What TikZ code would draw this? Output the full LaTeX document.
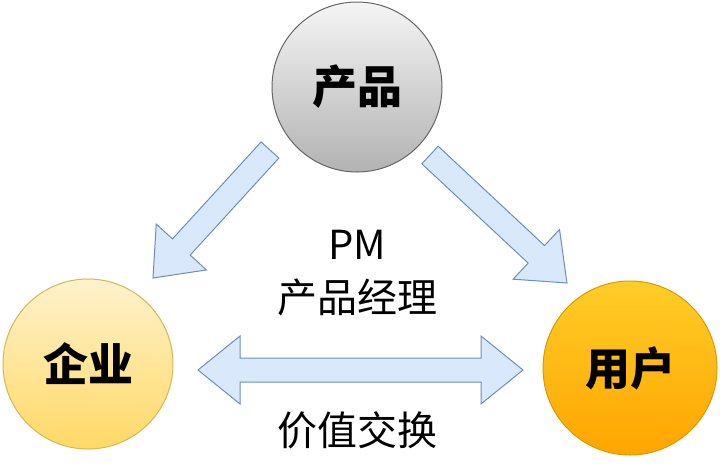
\documentclass[tikz,border=0pt]{standalone}
\usepackage{fontspec}
\newfontfamily\cjk{Noto Sans CJK SC}
\usetikzlibrary{calc}
\definecolor{afill}{HTML}{DAE8FC}
\definecolor{aline}{HTML}{6C8EBF}
\definecolor{eline}{HTML}{D6B656}
\definecolor{etop}{HTML}{FFF2CC}
\definecolor{ebot}{HTML}{FFD966}
\definecolor{uline}{HTML}{D79B00}
\definecolor{utop}{HTML}{FFCD28}
\definecolor{ubot}{HTML}{FFA500}
\tikzset{
  circ/.style={circle,minimum size=#1,inner sep=0pt,line width=1pt,font=\cjk\bfseries\fontsize{45}{48}\selectfont},
  blk/.style={fill=afill,draw=aline,line width=1pt,line join=miter},
  lbl/.style={font=\cjk\fontsize{40}{44}\selectfont,inner sep=0pt}
}
\newcommand{\blockarrow}[2]{%
  \coordinate (H) at ($(#2)!42pt!(#1)$);
  \draw[blk] ($(#1)!12pt!90:(#2)$) -- ($(H)!12pt!-90:(#1)$) -- ($(H)!34pt!-90:(#1)$) -- (#2)
    -- ($(H)!34pt!90:(#1)$) -- ($(H)!12pt!90:(#1)$) -- ($(#1)!12pt!-90:(#2)$) -- cycle;}
\begin{document}
\begin{tikzpicture}[x=1pt,y=-1pt]
\useasboundingbox (0,0) rectangle (720,474);
\node[circ=170pt,draw=black!60,top color=black!4,bottom color=black!30] (p) at (357,87) {产品};
\node[circ=170pt,draw=eline,top color=etop,bottom color=ebot] (e) at (88,364) {企业};
\node[circ=174pt,draw=uline,top color=utop,bottom color=ubot] (u) at (630,368) {用户};
\coordinate (a1) at (270,150); \coordinate (b1) at (153,278);
\coordinate (a2) at (430,155); \coordinate (b2) at (567,283);
\blockarrow{a1}{b1}
\blockarrow{a2}{b2}
\coordinate (L) at (198,370); \coordinate (R) at (523,370);
\draw[blk] (L) -- (240,336) -- (240,358) -- (481,358) -- (481,336) -- (R) -- (481,404) -- (481,382) -- (240,382) -- (240,404) -- cycle;
\node[lbl] (pm) at (357,245) {PM};
\node[lbl] (pmc) at (357,297) {产品经理};
\node[lbl] (v) at (357,430) {价值交换};
\end{tikzpicture}
\end{document}
